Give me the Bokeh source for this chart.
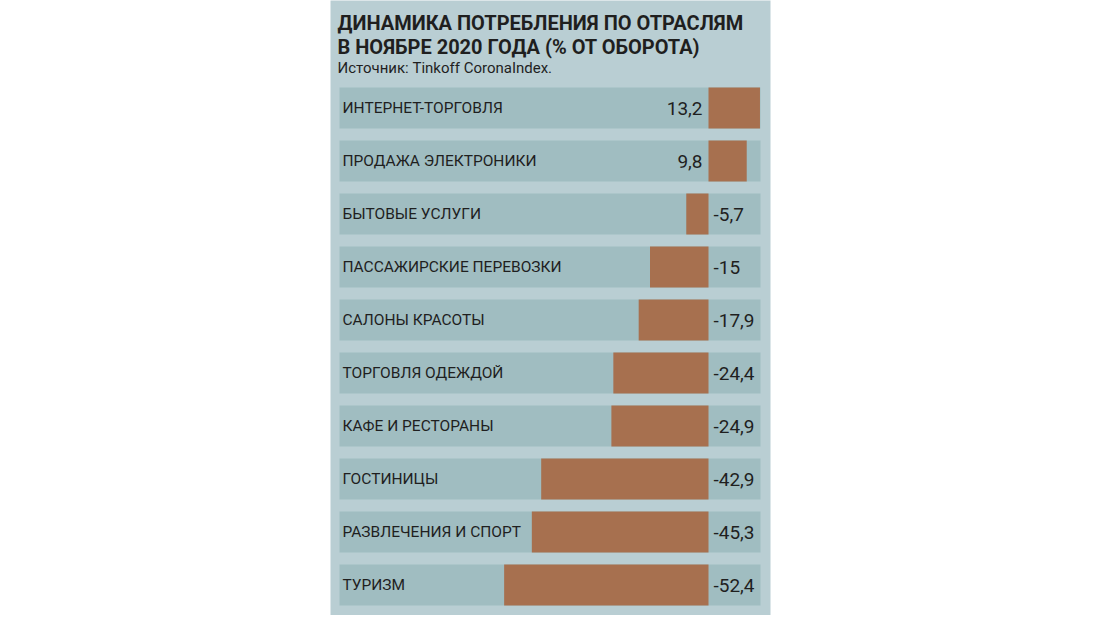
from bokeh.plotting import figure
from bokeh.models import ColumnDataSource, Range1d
from bokeh.core.properties import value
from bokeh.embed import file_html
from bokeh.resources import INLINE

categories = [
    "ИНТЕРНЕТ-ТОРГОВЛЯ",
    "ПРОДАЖА ЭЛЕКТРОНИКИ",
    "БЫТОВЫЕ УСЛУГИ",
    "ПАССАЖИРСКИЕ ПЕРЕВОЗКИ",
    "САЛОНЫ КРАСОТЫ",
    "ТОРГОВЛЯ ОДЕЖДОЙ",
    "КАФЕ И РЕСТОРАНЫ",
    "ГОСТИНИЦЫ",
    "РАЗВЛЕЧЕНИЯ И СПОРТ",
    "ТУРИЗМ",
]
values = [13.2, 9.8, -5.7, -15.0, -17.9, -24.4, -24.9, -42.9, -45.3, -52.4]

title_lines = ["ДИНАМИКА ПОТРЕБЛЕНИЯ ПО ОТРАСЛЯМ", "В НОЯБРЕ 2020 ГОДА (% ОТ ОБОРОТА)"]
subtitle = "Источник: Tinkoff CoronaIndex."

# layout helpers (reference pixel -> data)
X0_PX, PX_PER_UNIT = 708.0, 3.9
Y0_PX, PX_PER_ROW = 107.5, 53.0

FIG_W, FIG_H = 1095, 615
FRAME_L, FRAME_R = 330, 770


def px2x(px):
    return (px - X0_PX) / PX_PER_UNIT


def py2y(py):
    return (py - Y0_PX) / PX_PER_ROW


PANEL_BG = "#b9ced3"
BAND = "#a0bdc1"
BROWN = "#a7704f"
TEXT = "#1f1f1f"

n = len(categories)
ys = list(range(n))
labels = [("%g" % v).replace(".", ",") for v in values]
src = ColumnDataSource(dict(
    y=ys,
    v=values,
    cat=categories,
    lab=labels,
    align=["right" if v > 0 else "left" for v in values],
    xoff=[-6 if v > 0 else 5 for v in values],
))

p = figure(
    width=FIG_W, height=FIG_H,
    x_range=Range1d(px2x(FRAME_L), px2x(FRAME_R)),
    y_range=Range1d(py2y(FIG_H), py2y(0)),
    output_backend="svg", toolbar_location=None,
    min_border_left=FRAME_L, min_border_right=FIG_W - FRAME_R,
    min_border_top=0, min_border_bottom=0,
    background_fill_color=PANEL_BG, border_fill_color="white",
)
p.outline_line_color = None
p.xaxis.visible = False
p.yaxis.visible = False
p.xgrid.visible = False
p.ygrid.visible = False

bar_h = 41.0 / PX_PER_ROW
p.hbar(y="y", left=px2x(339), right=px2x(760), height=bar_h, source=src,
       fill_color=BAND, line_color=None)
p.hbar(y="y", left=0, right="v", height=bar_h, source=src,
       fill_color=BROWN, line_color=None)

p.text(x=px2x(342), y="y", text="cat", source=src, text_font=value("Roboto"),
       text_font_size="15.5px", text_color=TEXT, text_baseline="middle",
       text_align="left")
p.text(x=0, y="y", text="lab", source=src, x_offset="xoff", text_font=value("Roboto"),
       text_font_size="19px", text_color=TEXT, text_baseline="middle",
       text_align="align")

p.text(x=[px2x(337), px2x(337)], y=[py2y(22), py2y(46)], text=title_lines,
       text_font=value("Roboto"), text_font_style="bold", text_font_size="20px",
       text_color=TEXT, text_baseline="alphabetic", text_align="left")
p.text(x=[px2x(337)], y=[py2y(67)], text=[subtitle],
       text_font=value("Roboto"), text_font_size="15px",
       text_color=TEXT, text_baseline="alphabetic", text_align="left")

open("out.html", "w").write(file_html(p, INLINE))
